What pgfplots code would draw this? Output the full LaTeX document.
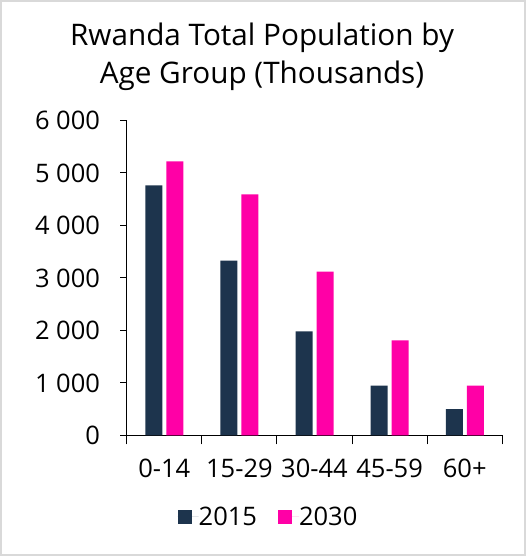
\documentclass[border=0pt]{standalone}
\usepackage{pgfplots}
\pgfplotsset{compat=1.18}
\usepackage{fontspec}
\setmainfont{Open Sans}
\definecolor{navy}{HTML}{1D344D}
\definecolor{pinkc}{HTML}{FF00A6}
\definecolor{frame}{HTML}{D9D9D9}
\begin{document}
\begin{tikzpicture}[x=1bp,y=1bp]
\path (0,0) rectangle (526,556);
\draw[frame, line width=2bp] (1,1) rectangle (525,555);
\node[font=\fontsize{29.7bp}{34bp}\selectfont, align=center, anchor=base] at (262,510) {Rwanda Total Population by};
\node[font=\fontsize{29.7bp}{34bp}\selectfont, align=center, anchor=base] at (262,472.5) {Age Group (Thousands)};
\begin{axis}[
  at={(126.7bp,120.6bp)}, anchor=south west,
  scale only axis, width=375.6bp, height=315bp,
  ybar=4bp, bar width=17bp,
  xmin=-0.5, xmax=4.5, ymin=0, ymax=6000,
  axis x line=bottom, axis y line=left,
  axis line style={-, black, line width=1bp},
  xtick={0,1,2,3,4},
  xticklabels={0-14,15-29,30-44,45-59,60+},
  major x tick style={draw=none},
  minor xtick={-0.5,0.5,1.5,2.5,3.5,4.5},
  minor x tick style={black, line width=1bp},
  minor tick length=9bp,
  ytick={0,1000,...,6000},
  y tick style={black, line width=1bp},
  major tick length=6.5bp,
  tick align=outside,
  /pgf/number format/.cd, 1000 sep={\ }, assume math mode=true,
  /pgfplots/.cd,
  ticklabel style={font=\fontsize{25.5bp}{30bp}\selectfont},
  yticklabel style={inner sep=0pt, xshift=-20bp},
  xticklabel style={inner sep=0pt, yshift=-17bp},
  legend style={at={(0.375,-0.259)}, anchor=center, draw=none, legend columns=2,
    font=\fontsize{25.5bp}{30bp}\selectfont,
    nodes={inner sep=0pt},
    /tikz/every even column/.append style={column sep=21bp}},
  legend image code/.code={\fill[#1] (0bp,-7bp) rectangle (14bp,7bp); \path (0bp,0bp) -- (21bp,0bp);},
]
\addplot[fill=navy, draw=none] coordinates {(0,4760) (1,3330) (2,1980) (3,950) (4,500)};
\addplot[fill=pinkc, draw=none] coordinates {(0,5220) (1,4590) (2,3120) (3,1810) (4,950)};
\legend{2015,2030}
\end{axis}
\end{tikzpicture}
\end{document}
